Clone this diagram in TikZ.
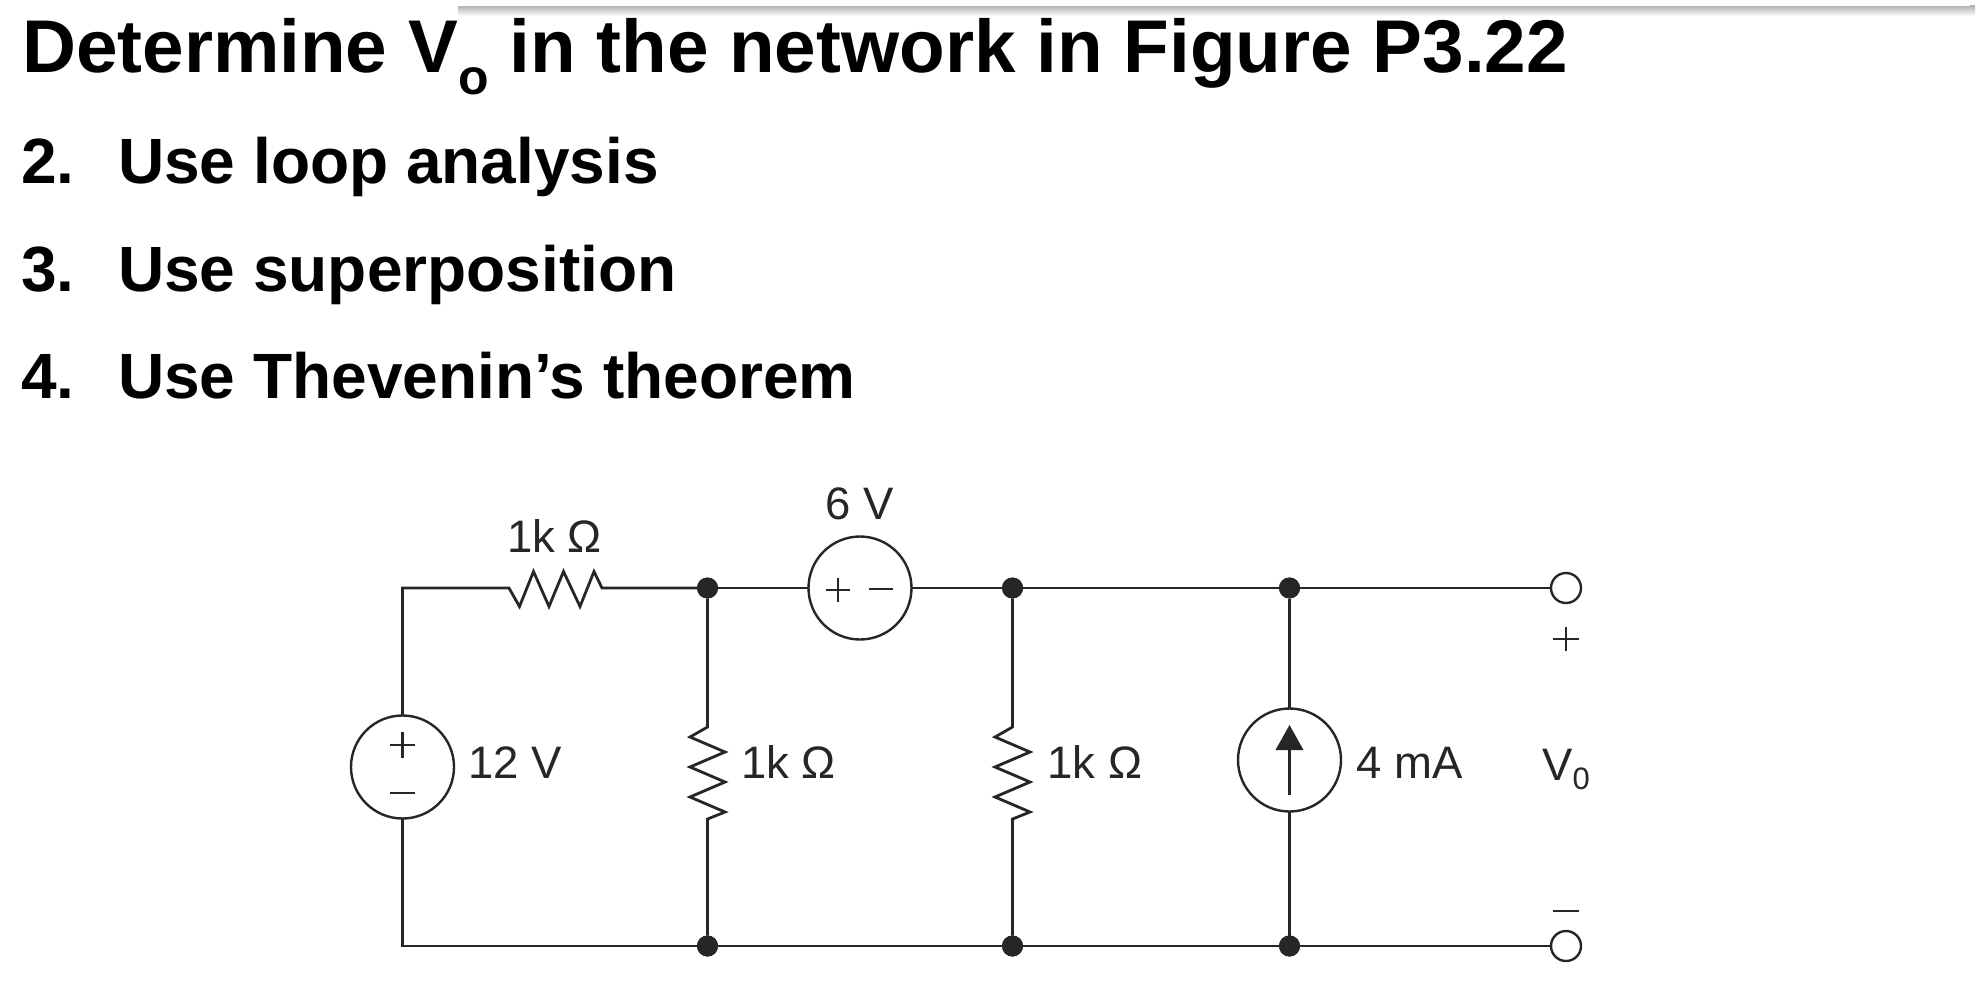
\documentclass[tikz,border=0pt]{standalone}
\usepackage{fontspec}
\setmainfont{Liberation Sans}
\definecolor{ink}{HTML}{262626}
\tikzset{
  wire/.style={draw=ink,line width=2.8pt,line join=miter},
  src/.style={circle,draw=ink,line width=2.4pt,fill=white,minimum size=103pt,inner sep=0pt,outer sep=0pt},
  dot/.style={circle,fill=ink,draw=none,minimum size=21pt,inner sep=0pt,outer sep=0pt},
  term/.style={circle,draw=ink,line width=2.4pt,fill=white,minimum size=30pt,inner sep=0pt,outer sep=0pt},
  lab/.style={text=ink,font=\fontsize{45.5}{46}\selectfont,inner sep=0pt,anchor=base},
  head/.style={text=black,font=\fontsize{74.7}{75}\bfseries\selectfont,inner sep=0pt,anchor=base west},
  item/.style={text=black,font=\fontsize{64}{64}\bfseries\selectfont,inner sep=0pt,anchor=base west},
  sign/.style={draw=ink,line width=2.8pt}
}
\begin{document}
\begin{tikzpicture}[x=1pt,y=-1pt]
\useasboundingbox (0,0) rectangle (1979,999);
\fill[white] (0,0) rectangle (1979,999);
% top bar shadow
\shade[top color=black!32,bottom color=white] (458,5) rectangle (1975,16);
\fill[white] (458,0) rectangle (1970,5.5);
% text
\node[head] (title) at (22,72) {Determine V\raisebox{-0.3em}{\fontsize{50}{50}\selectfont o} in the network in Figure P3.22};
\node[item] (i2) at (21,183) {2.};
\node[item] (t2) at (118,183) {Use loop analysis};
\node[item] (i3) at (21,291) {3.};
\node[item] (t3) at (118,291) {Use superposition};
\node[item] (i4) at (21,398) {4.};
\node[item] (t4) at (118,398) {Use Thevenin’s theorem};
% coordinates and parts
\coordinate (tl) at (402.5,588);
\coordinate (bl) at (402.5,946);
\node[dot] (a) at (707.5,588) {};
\node[dot] (b) at (1012.5,588) {};
\node[dot] (c) at (1289.5,588) {};
\node[dot] (d) at (707.5,946) {};
\node[dot] (e) at (1012.5,946) {};
\node[dot] (f) at (1289.5,946) {};
\node[term] (tp) at (1566,588) {};
\node[term] (tn) at (1566,946) {};
\node[src] (v12) at (402.5,767) {};
\node[src] (v6) at (860,588) {};
\node[src] (i4ma) at (1289.5,760) {};
\coordinate (r1a) at (509,588);
\coordinate (r1b) at (602,588);
\coordinate (r2a) at (707.5,727);
\coordinate (r2b) at (707.5,819);
\coordinate (r3a) at (1012.5,727);
\coordinate (r3b) at (1012.5,819);
% wires
\draw[wire] (v12.north) -- (tl) -- (r1a) -- ++(10.5,18.5) -- ++(14,-35) -- ++(15.5,35) -- ++(14.5,-35) -- ++(16.5,35) -- ++(14,-35) -- (r1b) -- (a);
\draw[wire] (a) -- (v6.west);
\draw[wire] (v6.east) -- (b) -- (c) -- (tp.west);
\draw[wire] (v12.south) -- (bl) -- (d) -- (e) -- (f) -- (tn.west);
\draw[wire] (a) -- (r2a) -- ++(-17.5,10) -- ++(35,15) -- ++(-35,15) -- ++(35,15) -- ++(-35,15) -- ++(35,15) -- (r2b) -- (d);
\draw[wire] (b) -- (r3a) -- ++(-17.5,10) -- ++(35,15) -- ++(-35,15) -- ++(35,15) -- ++(-35,15) -- ++(35,15) -- (r3b) -- (e);
\draw[wire] (c) -- (i4ma.north);
\draw[wire] (i4ma.south) -- (f);
% redraw nodes over wires
\node[dot] at (a) {}; \node[dot] at (b) {}; \node[dot] at (c) {};
\node[dot] at (d) {}; \node[dot] at (e) {}; \node[dot] at (f) {};
% arrow in current source
\coordinate (arrs) at (1289.5,795);
\coordinate (arre) at (1289.5,750);
\draw[wire] (arrs) -- (arre);
\fill[ink] (1289.5,725) -- (1303.5,750) -- (1275.5,750) -- cycle;
% signs
\draw[sign] (390,745) -- (415,745) (402.5,732) -- (402.5,758);
\draw[sign] (390,793) -- (415,793);
\draw[sign] (826,590) -- (850,590) (838,578) -- (838,602);
\draw[sign] (869,589) -- (893,589);
\draw[sign] (1553,639) -- (1579,639) (1566,627) -- (1566,651);
\draw[sign] (1553,911) -- (1579,911);
% labels
\node[lab] (l1) at (554.5,552) {1k Ω};
\node[lab] (l2) at (860,519) {6 V};
\node[lab] (l3) at (515,778) {12 V};
\node[lab] (l4) at (788.5,778) {1k Ω};
\node[lab] (l5) at (1095,778) {1k Ω};
\node[lab] (l6) at (1410,778) {4 mA};
\node[lab] (l7) at (1566,780) {V\raisebox{-0.2em}{\fontsize{31}{31}\selectfont 0}};
\end{tikzpicture}
\end{document}
